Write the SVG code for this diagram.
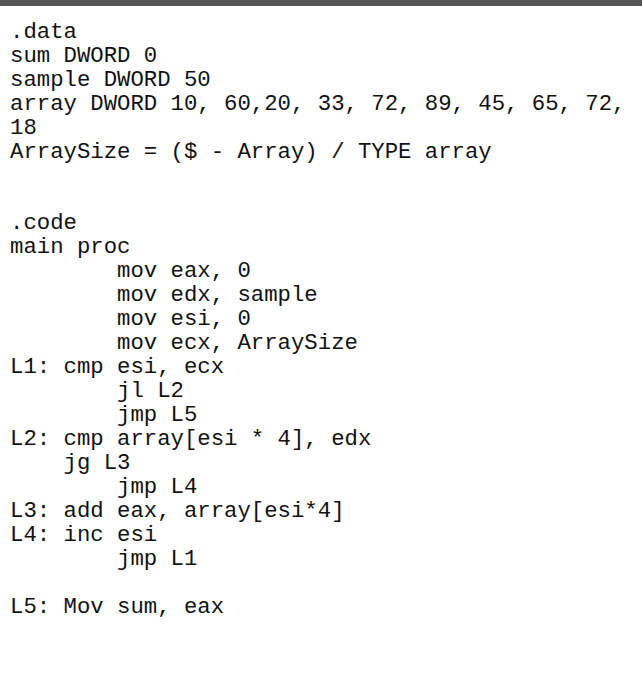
<svg xmlns="http://www.w3.org/2000/svg" width="642" height="700" viewBox="0 0 642 700">
<style>
text{font-family:"Liberation Mono","Courier New",monospace;font-size:22.3px;fill:#111;white-space:pre}
</style>
<rect x="0" y="0" width="642" height="700" fill="#fff"/>
<rect x="0" y="0" width="642" height="6" fill="#555"/>
<g id="code" xml:space="preserve">
<text x="10" y="38">.data</text>
<text x="10" y="62">sum DWORD 0</text>
<text x="10" y="86">sample DWORD 50</text>
<text x="10" y="110">array DWORD 10, 60,20, 33, 72, 89, 45, 65, 72,</text>
<text x="10" y="134">18</text>
<text x="10" y="158">ArraySize = ($ - Array) / TYPE array</text>
<text x="10" y="229">.code</text>
<text x="10" y="253">main proc</text>
<text x="10" y="277">        mov eax, 0</text>
<text x="10" y="301">        mov edx, sample</text>
<text x="10" y="325">        mov esi, 0</text>
<text x="10" y="349">        mov ecx, ArraySize</text>
<text x="10" y="373">L1: cmp esi, ecx</text>
<text x="10" y="397">        jl L2</text>
<text x="10" y="421">        jmp L5</text>
<text x="10" y="445">L2: cmp array[esi * 4], edx</text>
<text x="10" y="469">    jg L3</text>
<text x="10" y="493">        jmp L4</text>
<text x="10" y="517">L3: add eax, array[esi*4]</text>
<text x="10" y="541">L4: inc esi</text>
<text x="10" y="565">        jmp L1</text>
<text x="10" y="613">L5: Mov sum, eax</text>
</g>
</svg>
